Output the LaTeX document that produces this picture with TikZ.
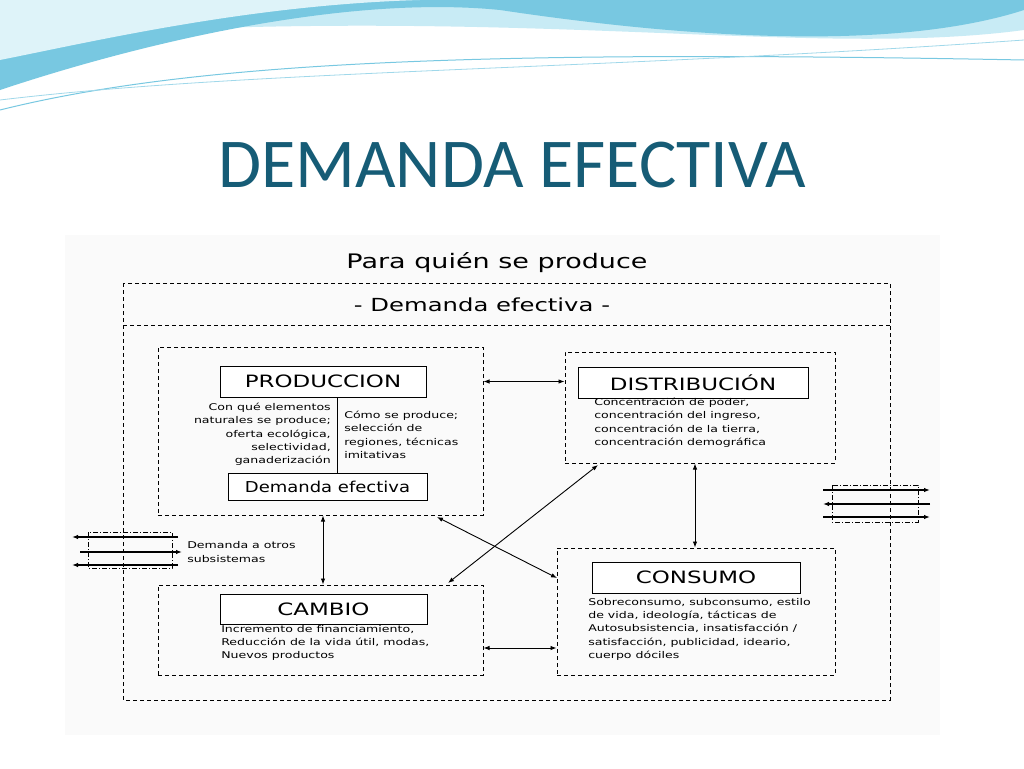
\documentclass[tikz,border=0pt]{standalone}
\usepackage{fontspec}
\setmainfont{Carlito}
\newfontfamily\djfont{DejaVu Sans}
\usetikzlibrary{arrows.meta}
\definecolor{ttl}{RGB}{22,92,118}
\definecolor{wave}{RGB}{120,200,225}
\definecolor{wavel}{RGB}{200,235,245}
\begin{document}
\begin{tikzpicture}[x=1pt,y=-1pt,
 dbox/.style={draw,dashed,line width=1pt,dash pattern=on 4pt off 3pt},
 tbox/.style={draw,line width=1pt,fill=white,inner sep=0pt},
 wide/.style={xscale=1.35,transform shape},
 small/.style={font=\djfont\fontsize{9.3}{13.3}\selectfont,inner sep=0pt,align=left,wide},
 arr/.style={{Latex[length=6pt]}-{Latex[length=6pt]},line width=0.9pt},
 one/.style={-{Latex[length=6pt]},line width=0.9pt}]
\useasboundingbox (0,0) rectangle (1024,768);
\fill[white] (0,0) rectangle (1024,768);
% waves
\fill[wavel] (0,0) -- (1024,0) -- (1024,30) .. controls (800,60) and (500,0) .. (0,40) -- cycle;
\fill[wave] (0,0) -- (1024,0) -- (1024,10) .. controls (900,50) and (700,40) .. (500,10) .. controls (350,-5) and (150,40) .. (0,90) -- cycle;
\fill[wavel!60] (0,0) -- (420,0) .. controls (250,5) and (100,40) .. (0,60) -- cycle;
\draw[wave,line width=1pt] (0,110) .. controls (200,60) and (500,50) .. (1024,60);
\draw[wave!70,line width=0.8pt] (0,100) .. controls (250,70) and (600,70) .. (1024,40);
% title
\node[text=ttl,font=\fontsize{70}{80}\selectfont] (title) at (512,165) {DEMANDA EFECTIVA};
% panel
\fill[black!2] (65,235) rectangle (940,735);
\node[wide,font=\djfont\fontsize{20}{24}\selectfont] (para) at (497,263) {Para quién se produce};
\draw[dbox] (123,283) rectangle (890,700);
\draw[dbox] (123,325) -- (890,325);
\node[wide,font=\djfont\fontsize{18}{22}\selectfont] (de) at (482,305) {- Demanda efectiva -};
% PRODUCCION
\node[dbox,minimum width=325pt,minimum height=168pt] (prod) at (320.5,431) {};
\node[tbox,minimum width=206pt,minimum height=31pt] (pt) at (323,381.5) {};
\node[wide,font=\djfont\fontsize{17}{20}\selectfont] (ptx) at (pt) {PRODUCCION};
\node[tbox,minimum width=199pt,minimum height=27pt] (pd) at (327.5,486.5) {};
\node[xscale=1.2,transform shape,font=\djfont\fontsize{15}{18}\selectfont] (pdx) at (pd) {Demanda efectiva};
\draw[line width=1pt] (337,397) -- (337,473);
\node[small,align=right,anchor=north east] (pl) at (331,403) {Con qué elementos\\naturales se produce;\\oferta ecológica,\\selectividad,\\ganaderización};
\node[small,anchor=north west] (pr) at (344,411) {Cómo se produce;\\selección de\\regiones, técnicas\\imitativas};
% DISTRIBUCION
\node[dbox,minimum width=270pt,minimum height=111pt] (dist) at (700,407.5) {};
\node[tbox,minimum width=230pt,minimum height=31pt] (dt) at (693,382.5) {};
\node[wide,font=\djfont\fontsize{17}{20}\selectfont] (dtx) at (dt) {DISTRIBUCIÓN};
\node[small,anchor=north west] (dx) at (594,398) {Concentración de poder,\\concentración del ingreso,\\concentración de la tierra,\\concentración demográfica};
% CONSUMO
\node[dbox,minimum width=278pt,minimum height=127pt] (cons) at (696,611.5) {};
\node[tbox,minimum width=208pt,minimum height=31pt] (ct) at (696,577.5) {};
\node[wide,font=\djfont\fontsize{17}{20}\selectfont] (ctx) at (ct) {CONSUMO};
\node[small,anchor=north west] (cx) at (588,598) {Sobreconsumo, subconsumo, estilo\\de vida, ideología, tácticas de\\Autosubsistencia, insatisfacción /\\satisfacción, publicidad, ideario,\\cuerpo dóciles};
% CAMBIO
\node[dbox,minimum width=325pt,minimum height=90pt] (camb) at (320.5,630) {};
\node[tbox,minimum width=207pt,minimum height=30pt] (kt) at (323.5,609) {};
\node[wide,font=\djfont\fontsize{17}{20}\selectfont] (ktx) at (kt) {CAMBIO};
\node[small,anchor=north west] (kx) at (221,625) {Incremento de financiamiento,\\Reducción de la vida útil, modas,\\Nuevos productos};
% connectors
\draw[arr] (prod.east|-pt) -- (dist.west|-pt);
\draw[arr] (dist.south-|695,0) -- (cons.north-|695,0);
\draw[arr] (prod.south-|323,0) -- (camb.north-|323,0);
\draw[arr] (cons.west|-0,648) -- (camb.east|-0,648);
\coordinate (c1) at (437,517); \coordinate (c2) at (557,578);
\coordinate (c3) at (598,465); \coordinate (c4) at (448,583);
\draw[arr] (c1) -- (c2);
\draw[arr] (c3) -- (c4);
% left icon
\draw[line width=0.8pt,dash pattern=on 5pt off 2pt on 1pt off 2pt] (88,532) rectangle (172,568);
\coordinate (la) at (72,537); \coordinate (lb) at (178,537);
\draw[one,line width=1.2pt] (lb) -- (la);
\coordinate (lc) at (80,552); \coordinate (ld) at (182,552);
\draw[one,line width=1.2pt] (lc) -- (ld);
\coordinate (le) at (72,565); \coordinate (lf) at (178,565);
\draw[one,line width=1.2pt] (lf) -- (le);
\node[small,anchor=west] (ltx) at (187,552) {Demanda a otros\\subsistemas};
% right icon
\draw[line width=0.8pt,dash pattern=on 5pt off 2pt on 1pt off 2pt] (832,485) rectangle (918,522);
\coordinate (ra) at (823,490); \coordinate (rb) at (930,490);
\draw[one,line width=1.2pt] (ra) -- (rb);
\coordinate (rc) at (823,504); \coordinate (rd) at (930,504);
\draw[one,line width=1.2pt] (rd) -- (rc);
\coordinate (re) at (823,517); \coordinate (rf) at (930,517);
\draw[one,line width=1.2pt] (re) -- (rf);
\end{tikzpicture}
\end{document}
